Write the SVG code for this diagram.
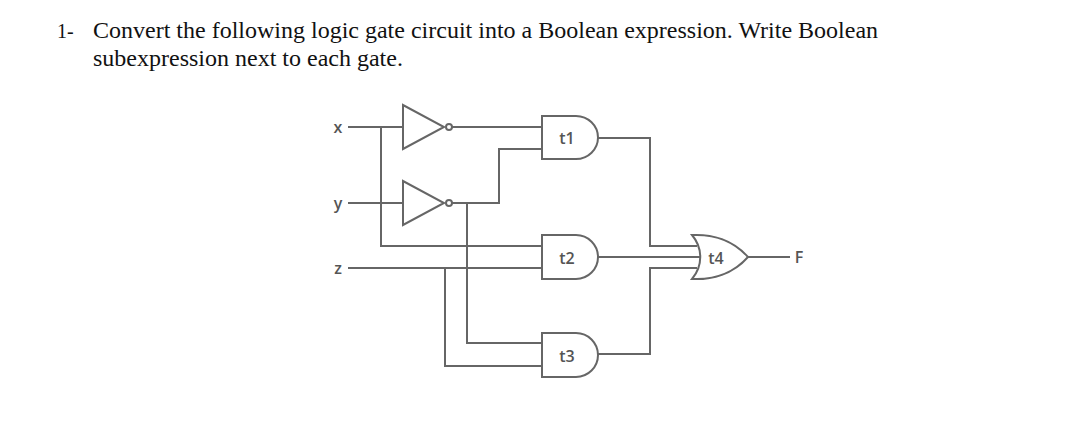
<svg xmlns="http://www.w3.org/2000/svg" width="1090" height="424" viewBox="0 0 1090 424">
<style>
.q{font-family:"Liberation Serif",serif;font-size:24px;fill:#111}
.n{font-family:"Liberation Serif",serif;font-size:20px;fill:#111}
.l{font-family:"Open Sans",sans-serif;font-size:16px;font-weight:600;fill:#555;text-anchor:middle}
.g{fill:#fff;stroke:#666;stroke-width:2}
.w{fill:none;stroke:#666;stroke-width:2}
</style>
<rect width="1090" height="424" fill="#fff"/>
<g id="question">
<text class="n" x="57" y="38">1-</text>
<text class="q" x="93" y="38">Convert the following logic gate circuit into a Boolean expression. Write Boolean</text>
<text class="q" x="93" y="66">subexpression next to each gate.</text>
</g>
<g id="connectors" class="w">
<path d="M348 127H403M452 127H542"/>
<path d="M348 203H403M452 203H499V149H542"/>
<path d="M381 127V246H542"/>
<path d="M467 203V343H542"/>
<path d="M348 268H542"/>
<path d="M445 268V366H542"/>
<path d="M598 138H650V246H697"/>
<path d="M598 257H700"/>
<path d="M598 354H650V268H697"/>
<path d="M748 257H790"/>
</g>
<g id="input-x"><text class="l" x="338" y="133">x</text></g>
<g id="input-y"><text class="l" x="338" y="209">y</text></g>
<g id="input-z"><text class="l" x="338" y="274">z</text></g>
<g id="not-x"><path class="g" d="M403 105V149L444 127Z"/><circle class="g" cx="449" cy="127" r="3"/></g>
<g id="not-y"><path class="g" d="M403 181V225L444 203Z"/><circle class="g" cx="449" cy="203" r="3"/></g>
<g id="t1"><path class="g" d="M542 116H576A22 21.500 0 0 1 576 159H542Z"/><text class="l" x="567" y="144">t1</text></g>
<g id="t2"><path class="g" d="M542 235H576A22 22 0 0 1 576 279H542Z"/><text class="l" x="567" y="264">t2</text></g>
<g id="t3"><path class="g" d="M542 333H576A22 22 0 0 1 576 377H542Z"/><text class="l" x="567" y="362">t3</text></g>
<g id="t4"><path class="g" d="M692 235C712 234 733 240 748 257C733 274 712 280 692 279C703 266 703 248 692 235Z"/><text class="l" x="716" y="264">t4</text></g>
<g id="output-f"><text class="l" x="799" y="263">F</text></g>
</svg>
